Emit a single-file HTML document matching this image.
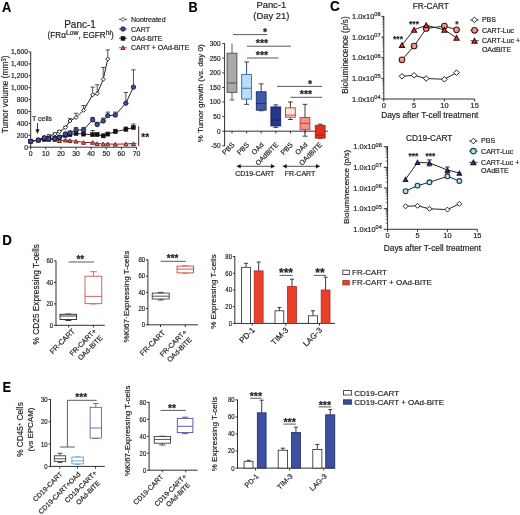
<!DOCTYPE html>
<html><head><meta charset="utf-8"><title>Figure</title>
<style>
html,body{margin:0;padding:0;background:#fff;}
svg{display:block;font-family:"Liberation Sans",sans-serif;}
text{stroke:#222;stroke-width:.18px;}
</style></head><body>
<svg width="520" height="515" viewBox="0 0 520 515">
<rect width="520" height="515" fill="#fff"/>
<text x="2.00" y="11.80" font-size="14" text-anchor="start" fill="#000" font-weight="bold" textLength="9.3" lengthAdjust="spacingAndGlyphs">A</text>
<text x="188.50" y="11.50" font-size="14" text-anchor="start" fill="#000" font-weight="bold" textLength="9.2" lengthAdjust="spacingAndGlyphs">B</text>
<text x="330.10" y="11.40" font-size="14" text-anchor="start" fill="#000" font-weight="bold" textLength="9.8" lengthAdjust="spacingAndGlyphs">C</text>
<text x="2.20" y="245.20" font-size="14" text-anchor="start" fill="#000" font-weight="bold" textLength="9.6" lengthAdjust="spacingAndGlyphs">D</text>
<text x="2.60" y="392.40" font-size="14" text-anchor="start" fill="#000" font-weight="bold" textLength="8.6" lengthAdjust="spacingAndGlyphs">E</text>
<text x="80.00" y="28.00" font-size="10" text-anchor="middle" fill="#222" >Panc-1</text>
<text x="80.7" y="38" font-size="8.2" text-anchor="middle" fill="#222">(FRα<tspan dy="-2.6" font-size="6.8">Low</tspan><tspan dy="2.6">, EGFR</tspan><tspan dy="-2.6" font-size="6.8">hi</tspan><tspan dy="2.6">)</tspan></text>
<line x1="30.70" y1="51.60" x2="30.70" y2="147.60" stroke="#262626" stroke-width="0.95" />
<line x1="30.70" y1="147.20" x2="136.47" y2="147.20" stroke="#262626" stroke-width="0.95" />
<line x1="28.50" y1="147.20" x2="30.70" y2="147.20" stroke="#262626" stroke-width="0.95" />
<text x="28.10" y="149.60" font-size="6.8" text-anchor="end" fill="#222" >0</text>
<line x1="28.50" y1="135.30" x2="30.70" y2="135.30" stroke="#262626" stroke-width="0.95" />
<text x="28.10" y="137.70" font-size="6.8" text-anchor="end" fill="#222" >200</text>
<line x1="28.50" y1="123.40" x2="30.70" y2="123.40" stroke="#262626" stroke-width="0.95" />
<text x="28.10" y="125.80" font-size="6.8" text-anchor="end" fill="#222" >400</text>
<line x1="28.50" y1="111.50" x2="30.70" y2="111.50" stroke="#262626" stroke-width="0.95" />
<text x="28.10" y="113.90" font-size="6.8" text-anchor="end" fill="#222" >600</text>
<line x1="28.50" y1="99.60" x2="30.70" y2="99.60" stroke="#262626" stroke-width="0.95" />
<text x="28.10" y="102.00" font-size="6.8" text-anchor="end" fill="#222" >800</text>
<line x1="28.50" y1="87.70" x2="30.70" y2="87.70" stroke="#262626" stroke-width="0.95" />
<text x="28.10" y="90.10" font-size="6.8" text-anchor="end" fill="#222" >1,000</text>
<line x1="28.50" y1="75.80" x2="30.70" y2="75.80" stroke="#262626" stroke-width="0.95" />
<text x="28.10" y="78.20" font-size="6.8" text-anchor="end" fill="#222" >1,200</text>
<line x1="28.50" y1="63.90" x2="30.70" y2="63.90" stroke="#262626" stroke-width="0.95" />
<text x="28.10" y="66.30" font-size="6.8" text-anchor="end" fill="#222" >1,400</text>
<line x1="28.50" y1="52.00" x2="30.70" y2="52.00" stroke="#262626" stroke-width="0.95" />
<text x="28.10" y="54.40" font-size="6.8" text-anchor="end" fill="#222" >1,600</text>
<line x1="30.70" y1="147.20" x2="30.70" y2="149.40" stroke="#262626" stroke-width="0.95" />
<text x="30.70" y="156.20" font-size="6.8" text-anchor="middle" fill="#222" >0</text>
<line x1="45.81" y1="147.20" x2="45.81" y2="149.40" stroke="#262626" stroke-width="0.95" />
<text x="45.81" y="156.20" font-size="6.8" text-anchor="middle" fill="#222" >10</text>
<line x1="60.92" y1="147.20" x2="60.92" y2="149.40" stroke="#262626" stroke-width="0.95" />
<text x="60.92" y="156.20" font-size="6.8" text-anchor="middle" fill="#222" >20</text>
<line x1="76.03" y1="147.20" x2="76.03" y2="149.40" stroke="#262626" stroke-width="0.95" />
<text x="76.03" y="156.20" font-size="6.8" text-anchor="middle" fill="#222" >30</text>
<line x1="91.14" y1="147.20" x2="91.14" y2="149.40" stroke="#262626" stroke-width="0.95" />
<text x="91.14" y="156.20" font-size="6.8" text-anchor="middle" fill="#222" >40</text>
<line x1="106.25" y1="147.20" x2="106.25" y2="149.40" stroke="#262626" stroke-width="0.95" />
<text x="106.25" y="156.20" font-size="6.8" text-anchor="middle" fill="#222" >50</text>
<line x1="121.36" y1="147.20" x2="121.36" y2="149.40" stroke="#262626" stroke-width="0.95" />
<text x="121.36" y="156.20" font-size="6.8" text-anchor="middle" fill="#222" >60</text>
<line x1="136.47" y1="147.20" x2="136.47" y2="149.40" stroke="#262626" stroke-width="0.95" />
<text x="136.47" y="156.20" font-size="6.8" text-anchor="middle" fill="#222" >70</text>
<text x="8.2" y="94.3" font-size="8.3" text-anchor="middle" fill="#222" transform="rotate(-90 8.2 94.3)">Tumor volume (mm<tspan dy="-2.5" font-size="6.3">3</tspan><tspan dy="2.5">)</tspan></text>
<line x1="44.30" y1="138.27" x2="44.30" y2="137.08" stroke="#262626" stroke-width="0.8" />
<line x1="42.10" y1="137.08" x2="46.50" y2="137.08" stroke="#262626" stroke-width="0.8" />
<line x1="48.83" y1="136.49" x2="48.83" y2="134.70" stroke="#262626" stroke-width="0.8" />
<line x1="46.63" y1="134.70" x2="51.03" y2="134.70" stroke="#262626" stroke-width="0.8" />
<line x1="54.88" y1="134.11" x2="54.88" y2="132.92" stroke="#262626" stroke-width="0.8" />
<line x1="52.68" y1="132.92" x2="57.08" y2="132.92" stroke="#262626" stroke-width="0.8" />
<line x1="59.41" y1="131.73" x2="59.41" y2="130.54" stroke="#262626" stroke-width="0.8" />
<line x1="57.21" y1="130.54" x2="61.61" y2="130.54" stroke="#262626" stroke-width="0.8" />
<line x1="65.45" y1="127.56" x2="65.45" y2="126.38" stroke="#262626" stroke-width="0.8" />
<line x1="63.25" y1="126.38" x2="67.65" y2="126.38" stroke="#262626" stroke-width="0.8" />
<line x1="69.99" y1="121.02" x2="69.99" y2="118.64" stroke="#262626" stroke-width="0.8" />
<line x1="67.79" y1="118.64" x2="72.19" y2="118.64" stroke="#262626" stroke-width="0.8" />
<line x1="76.03" y1="117.45" x2="76.03" y2="113.28" stroke="#262626" stroke-width="0.8" />
<line x1="73.83" y1="113.28" x2="78.23" y2="113.28" stroke="#262626" stroke-width="0.8" />
<line x1="83.58" y1="110.31" x2="83.58" y2="105.55" stroke="#262626" stroke-width="0.8" />
<line x1="81.38" y1="105.55" x2="85.78" y2="105.55" stroke="#262626" stroke-width="0.8" />
<line x1="92.65" y1="94.84" x2="92.65" y2="87.10" stroke="#262626" stroke-width="0.8" />
<line x1="90.45" y1="87.10" x2="94.85" y2="87.10" stroke="#262626" stroke-width="0.8" />
<line x1="97.18" y1="93.65" x2="97.18" y2="84.72" stroke="#262626" stroke-width="0.8" />
<line x1="94.98" y1="84.72" x2="99.38" y2="84.72" stroke="#262626" stroke-width="0.8" />
<line x1="103.23" y1="79.37" x2="103.23" y2="67.47" stroke="#262626" stroke-width="0.8" />
<line x1="101.03" y1="67.47" x2="105.43" y2="67.47" stroke="#262626" stroke-width="0.8" />
<line x1="107.76" y1="59.14" x2="107.76" y2="49.92" stroke="#262626" stroke-width="0.8" />
<line x1="105.56" y1="49.92" x2="109.96" y2="49.92" stroke="#262626" stroke-width="0.8" />
<polyline points="30.70,141.25 38.25,140.06 44.30,138.27 48.83,136.49 54.88,134.11 59.41,131.73 65.45,127.56 69.99,121.02 76.03,117.45 83.58,110.31 92.65,94.84 97.18,93.65 103.23,79.37 107.76,59.14" fill="none" stroke="#262626" stroke-width="1.0"/>
<polygon points="30.70,139.25 32.70,141.25 30.70,143.25 28.70,141.25" fill="#fff" stroke="#262626" stroke-width="1.0" stroke-linejoin="miter"/>
<polygon points="38.25,138.06 40.25,140.06 38.25,142.06 36.25,140.06" fill="#fff" stroke="#262626" stroke-width="1.0" stroke-linejoin="miter"/>
<polygon points="44.30,136.27 46.30,138.27 44.30,140.27 42.30,138.27" fill="#fff" stroke="#262626" stroke-width="1.0" stroke-linejoin="miter"/>
<polygon points="48.83,134.49 50.83,136.49 48.83,138.49 46.83,136.49" fill="#fff" stroke="#262626" stroke-width="1.0" stroke-linejoin="miter"/>
<polygon points="54.88,132.11 56.88,134.11 54.88,136.11 52.88,134.11" fill="#fff" stroke="#262626" stroke-width="1.0" stroke-linejoin="miter"/>
<polygon points="59.41,129.73 61.41,131.73 59.41,133.73 57.41,131.73" fill="#fff" stroke="#262626" stroke-width="1.0" stroke-linejoin="miter"/>
<polygon points="65.45,125.56 67.45,127.56 65.45,129.56 63.45,127.56" fill="#fff" stroke="#262626" stroke-width="1.0" stroke-linejoin="miter"/>
<polygon points="69.99,119.02 71.99,121.02 69.99,123.02 67.99,121.02" fill="#fff" stroke="#262626" stroke-width="1.0" stroke-linejoin="miter"/>
<polygon points="76.03,115.45 78.03,117.45 76.03,119.45 74.03,117.45" fill="#fff" stroke="#262626" stroke-width="1.0" stroke-linejoin="miter"/>
<polygon points="83.58,108.31 85.58,110.31 83.58,112.31 81.58,110.31" fill="#fff" stroke="#262626" stroke-width="1.0" stroke-linejoin="miter"/>
<polygon points="92.65,92.84 94.65,94.84 92.65,96.84 90.65,94.84" fill="#fff" stroke="#262626" stroke-width="1.0" stroke-linejoin="miter"/>
<polygon points="97.18,91.65 99.18,93.65 97.18,95.65 95.18,93.65" fill="#fff" stroke="#262626" stroke-width="1.0" stroke-linejoin="miter"/>
<polygon points="103.23,77.37 105.23,79.37 103.23,81.37 101.23,79.37" fill="#fff" stroke="#262626" stroke-width="1.0" stroke-linejoin="miter"/>
<polygon points="107.76,57.14 109.76,59.14 107.76,61.14 105.76,59.14" fill="#fff" stroke="#262626" stroke-width="1.0" stroke-linejoin="miter"/>
<polyline points="30.70,141.25 38.25,140.06 44.30,139.46 48.83,139.46 54.88,139.46 59.41,140.66 65.45,140.06 69.99,140.66 76.03,141.25 83.58,142.44 92.65,142.44 97.18,143.63 103.23,143.93 107.76,143.93 115.32,144.22 125.89,143.93 133.45,143.63 136.47,143.63" fill="none" stroke="#7a1f1c" stroke-width="1.0"/>
<polygon points="30.70,139.45 32.70,143.12 28.70,143.12" fill="#cf7a72" stroke="#7a1f1c" stroke-width="1.0" stroke-linejoin="miter"/>
<polygon points="38.25,138.26 40.25,141.94 36.26,141.94" fill="#cf7a72" stroke="#7a1f1c" stroke-width="1.0" stroke-linejoin="miter"/>
<polygon points="44.30,137.66 46.29,141.34 42.30,141.34" fill="#cf7a72" stroke="#7a1f1c" stroke-width="1.0" stroke-linejoin="miter"/>
<polygon points="48.83,137.66 50.83,141.34 46.84,141.34" fill="#cf7a72" stroke="#7a1f1c" stroke-width="1.0" stroke-linejoin="miter"/>
<polygon points="54.88,137.66 56.87,141.34 52.88,141.34" fill="#cf7a72" stroke="#7a1f1c" stroke-width="1.0" stroke-linejoin="miter"/>
<polygon points="59.41,138.86 61.40,142.53 57.41,142.53" fill="#cf7a72" stroke="#7a1f1c" stroke-width="1.0" stroke-linejoin="miter"/>
<polygon points="65.45,138.26 67.45,141.94 63.46,141.94" fill="#cf7a72" stroke="#7a1f1c" stroke-width="1.0" stroke-linejoin="miter"/>
<polygon points="69.99,138.86 71.98,142.53 67.99,142.53" fill="#cf7a72" stroke="#7a1f1c" stroke-width="1.0" stroke-linejoin="miter"/>
<polygon points="76.03,139.45 78.03,143.12 74.03,143.12" fill="#cf7a72" stroke="#7a1f1c" stroke-width="1.0" stroke-linejoin="miter"/>
<polygon points="83.58,140.64 85.58,144.31 81.59,144.31" fill="#cf7a72" stroke="#7a1f1c" stroke-width="1.0" stroke-linejoin="miter"/>
<polygon points="92.65,140.64 94.65,144.31 90.66,144.31" fill="#cf7a72" stroke="#7a1f1c" stroke-width="1.0" stroke-linejoin="miter"/>
<polygon points="97.18,141.83 99.18,145.50 95.19,145.50" fill="#cf7a72" stroke="#7a1f1c" stroke-width="1.0" stroke-linejoin="miter"/>
<polygon points="103.23,142.13 105.22,145.80 101.23,145.80" fill="#cf7a72" stroke="#7a1f1c" stroke-width="1.0" stroke-linejoin="miter"/>
<polygon points="107.76,142.13 109.76,145.80 105.77,145.80" fill="#cf7a72" stroke="#7a1f1c" stroke-width="1.0" stroke-linejoin="miter"/>
<polygon points="115.32,142.43 117.31,146.10 113.32,146.10" fill="#cf7a72" stroke="#7a1f1c" stroke-width="1.0" stroke-linejoin="miter"/>
<polygon points="125.89,142.13 127.89,145.80 123.90,145.80" fill="#cf7a72" stroke="#7a1f1c" stroke-width="1.0" stroke-linejoin="miter"/>
<polygon points="133.45,141.83 135.44,145.50 131.45,145.50" fill="#cf7a72" stroke="#7a1f1c" stroke-width="1.0" stroke-linejoin="miter"/>
<line x1="44.30" y1="138.87" x2="44.30" y2="137.68" stroke="#262626" stroke-width="0.8" />
<line x1="42.30" y1="137.68" x2="46.30" y2="137.68" stroke="#262626" stroke-width="0.8" />
<line x1="48.83" y1="138.27" x2="48.83" y2="137.08" stroke="#262626" stroke-width="0.8" />
<line x1="46.83" y1="137.08" x2="50.83" y2="137.08" stroke="#262626" stroke-width="0.8" />
<line x1="54.88" y1="138.27" x2="54.88" y2="137.08" stroke="#262626" stroke-width="0.8" />
<line x1="52.88" y1="137.08" x2="56.88" y2="137.08" stroke="#262626" stroke-width="0.8" />
<line x1="59.41" y1="137.68" x2="59.41" y2="136.49" stroke="#262626" stroke-width="0.8" />
<line x1="57.41" y1="136.49" x2="61.41" y2="136.49" stroke="#262626" stroke-width="0.8" />
<line x1="65.45" y1="135.30" x2="65.45" y2="133.51" stroke="#262626" stroke-width="0.8" />
<line x1="63.45" y1="133.51" x2="67.45" y2="133.51" stroke="#262626" stroke-width="0.8" />
<line x1="69.99" y1="134.70" x2="69.99" y2="132.92" stroke="#262626" stroke-width="0.8" />
<line x1="67.99" y1="132.92" x2="71.99" y2="132.92" stroke="#262626" stroke-width="0.8" />
<line x1="76.03" y1="133.51" x2="76.03" y2="131.73" stroke="#262626" stroke-width="0.8" />
<line x1="74.03" y1="131.73" x2="78.03" y2="131.73" stroke="#262626" stroke-width="0.8" />
<line x1="83.58" y1="134.11" x2="83.58" y2="131.73" stroke="#262626" stroke-width="0.8" />
<line x1="81.58" y1="131.73" x2="85.58" y2="131.73" stroke="#262626" stroke-width="0.8" />
<line x1="92.65" y1="134.70" x2="92.65" y2="130.54" stroke="#262626" stroke-width="0.8" />
<line x1="90.65" y1="130.54" x2="94.65" y2="130.54" stroke="#262626" stroke-width="0.8" />
<line x1="97.18" y1="134.70" x2="97.18" y2="132.92" stroke="#262626" stroke-width="0.8" />
<line x1="95.18" y1="132.92" x2="99.18" y2="132.92" stroke="#262626" stroke-width="0.8" />
<line x1="103.23" y1="135.89" x2="103.23" y2="134.11" stroke="#262626" stroke-width="0.8" />
<line x1="101.23" y1="134.11" x2="105.23" y2="134.11" stroke="#262626" stroke-width="0.8" />
<line x1="107.76" y1="134.11" x2="107.76" y2="132.32" stroke="#262626" stroke-width="0.8" />
<line x1="105.76" y1="132.32" x2="109.76" y2="132.32" stroke="#262626" stroke-width="0.8" />
<line x1="115.32" y1="131.73" x2="115.32" y2="129.35" stroke="#262626" stroke-width="0.8" />
<line x1="113.32" y1="129.35" x2="117.32" y2="129.35" stroke="#262626" stroke-width="0.8" />
<line x1="125.89" y1="129.35" x2="125.89" y2="126.97" stroke="#262626" stroke-width="0.8" />
<line x1="123.89" y1="126.97" x2="127.89" y2="126.97" stroke="#262626" stroke-width="0.8" />
<line x1="133.45" y1="127.56" x2="133.45" y2="124.00" stroke="#262626" stroke-width="0.8" />
<line x1="131.45" y1="124.00" x2="135.45" y2="124.00" stroke="#262626" stroke-width="0.8" />
<polyline points="30.70,141.25 38.25,140.06 44.30,138.87 48.83,138.27 54.88,138.27 59.41,137.68 65.45,135.30 69.99,134.70 76.03,133.51 83.58,134.11 92.65,134.70 97.18,134.70 103.23,135.89 107.76,134.11 115.32,131.73 125.89,129.35 133.45,127.56" fill="none" stroke="#262626" stroke-width="1.0"/>
<rect x="28.70" y="139.25" width="4.00" height="4.00" fill="#111" stroke="#111" stroke-width="0.5"/>
<rect x="36.25" y="138.06" width="4.00" height="4.00" fill="#111" stroke="#111" stroke-width="0.5"/>
<rect x="42.30" y="136.87" width="4.00" height="4.00" fill="#111" stroke="#111" stroke-width="0.5"/>
<rect x="46.83" y="136.27" width="4.00" height="4.00" fill="#111" stroke="#111" stroke-width="0.5"/>
<rect x="52.88" y="136.27" width="4.00" height="4.00" fill="#111" stroke="#111" stroke-width="0.5"/>
<rect x="57.41" y="135.68" width="4.00" height="4.00" fill="#111" stroke="#111" stroke-width="0.5"/>
<rect x="63.45" y="133.30" width="4.00" height="4.00" fill="#111" stroke="#111" stroke-width="0.5"/>
<rect x="67.99" y="132.70" width="4.00" height="4.00" fill="#111" stroke="#111" stroke-width="0.5"/>
<rect x="74.03" y="131.51" width="4.00" height="4.00" fill="#111" stroke="#111" stroke-width="0.5"/>
<rect x="81.58" y="132.11" width="4.00" height="4.00" fill="#111" stroke="#111" stroke-width="0.5"/>
<rect x="90.65" y="132.70" width="4.00" height="4.00" fill="#111" stroke="#111" stroke-width="0.5"/>
<rect x="95.18" y="132.70" width="4.00" height="4.00" fill="#111" stroke="#111" stroke-width="0.5"/>
<rect x="101.23" y="133.89" width="4.00" height="4.00" fill="#111" stroke="#111" stroke-width="0.5"/>
<rect x="105.76" y="132.11" width="4.00" height="4.00" fill="#111" stroke="#111" stroke-width="0.5"/>
<rect x="113.32" y="129.73" width="4.00" height="4.00" fill="#111" stroke="#111" stroke-width="0.5"/>
<rect x="123.89" y="127.35" width="4.00" height="4.00" fill="#111" stroke="#111" stroke-width="0.5"/>
<rect x="131.45" y="125.56" width="4.00" height="4.00" fill="#111" stroke="#111" stroke-width="0.5"/>
<line x1="44.30" y1="137.68" x2="44.30" y2="136.49" stroke="#262626" stroke-width="0.8" />
<line x1="42.10" y1="136.49" x2="46.50" y2="136.49" stroke="#262626" stroke-width="0.8" />
<line x1="48.83" y1="138.87" x2="48.83" y2="137.68" stroke="#262626" stroke-width="0.8" />
<line x1="46.63" y1="137.68" x2="51.03" y2="137.68" stroke="#262626" stroke-width="0.8" />
<line x1="54.88" y1="138.87" x2="54.88" y2="137.68" stroke="#262626" stroke-width="0.8" />
<line x1="52.68" y1="137.68" x2="57.08" y2="137.68" stroke="#262626" stroke-width="0.8" />
<line x1="59.41" y1="137.08" x2="59.41" y2="135.89" stroke="#262626" stroke-width="0.8" />
<line x1="57.21" y1="135.89" x2="61.61" y2="135.89" stroke="#262626" stroke-width="0.8" />
<line x1="65.45" y1="134.11" x2="65.45" y2="132.32" stroke="#262626" stroke-width="0.8" />
<line x1="63.25" y1="132.32" x2="67.65" y2="132.32" stroke="#262626" stroke-width="0.8" />
<line x1="69.99" y1="132.92" x2="69.99" y2="131.13" stroke="#262626" stroke-width="0.8" />
<line x1="67.79" y1="131.13" x2="72.19" y2="131.13" stroke="#262626" stroke-width="0.8" />
<line x1="76.03" y1="129.94" x2="76.03" y2="127.56" stroke="#262626" stroke-width="0.8" />
<line x1="73.83" y1="127.56" x2="78.23" y2="127.56" stroke="#262626" stroke-width="0.8" />
<line x1="83.58" y1="129.94" x2="83.58" y2="127.56" stroke="#262626" stroke-width="0.8" />
<line x1="81.38" y1="127.56" x2="85.78" y2="127.56" stroke="#262626" stroke-width="0.8" />
<line x1="92.65" y1="119.83" x2="92.65" y2="117.45" stroke="#262626" stroke-width="0.8" />
<line x1="90.45" y1="117.45" x2="94.85" y2="117.45" stroke="#262626" stroke-width="0.8" />
<line x1="97.18" y1="124.59" x2="97.18" y2="122.21" stroke="#262626" stroke-width="0.8" />
<line x1="94.98" y1="122.21" x2="99.38" y2="122.21" stroke="#262626" stroke-width="0.8" />
<line x1="103.23" y1="121.02" x2="103.23" y2="118.04" stroke="#262626" stroke-width="0.8" />
<line x1="101.03" y1="118.04" x2="105.43" y2="118.04" stroke="#262626" stroke-width="0.8" />
<line x1="107.76" y1="115.66" x2="107.76" y2="112.09" stroke="#262626" stroke-width="0.8" />
<line x1="105.56" y1="112.09" x2="109.96" y2="112.09" stroke="#262626" stroke-width="0.8" />
<line x1="115.32" y1="115.07" x2="115.32" y2="112.09" stroke="#262626" stroke-width="0.8" />
<line x1="113.12" y1="112.09" x2="117.52" y2="112.09" stroke="#262626" stroke-width="0.8" />
<line x1="125.89" y1="103.17" x2="125.89" y2="92.46" stroke="#262626" stroke-width="0.8" />
<line x1="123.69" y1="92.46" x2="128.09" y2="92.46" stroke="#262626" stroke-width="0.8" />
<line x1="133.45" y1="87.10" x2="133.45" y2="69.85" stroke="#262626" stroke-width="0.8" />
<line x1="131.25" y1="69.85" x2="135.65" y2="69.85" stroke="#262626" stroke-width="0.8" />
<polyline points="30.70,141.25 38.25,140.06 44.30,137.68 48.83,138.87 54.88,138.87 59.41,137.08 65.45,134.11 69.99,132.92 76.03,129.94 83.58,129.94 92.65,119.83 97.18,124.59 103.23,121.02 107.76,115.66 115.32,115.07 125.89,103.17 133.45,87.10" fill="none" stroke="#262626" stroke-width="1.0"/>
<circle cx="30.70" cy="141.25" r="2.2" fill="#3f4d9c" stroke="#151a40" stroke-width="0.9"/>
<circle cx="38.25" cy="140.06" r="2.2" fill="#3f4d9c" stroke="#151a40" stroke-width="0.9"/>
<circle cx="44.30" cy="137.68" r="2.2" fill="#3f4d9c" stroke="#151a40" stroke-width="0.9"/>
<circle cx="48.83" cy="138.87" r="2.2" fill="#3f4d9c" stroke="#151a40" stroke-width="0.9"/>
<circle cx="54.88" cy="138.87" r="2.2" fill="#3f4d9c" stroke="#151a40" stroke-width="0.9"/>
<circle cx="59.41" cy="137.08" r="2.2" fill="#3f4d9c" stroke="#151a40" stroke-width="0.9"/>
<circle cx="65.45" cy="134.11" r="2.2" fill="#3f4d9c" stroke="#151a40" stroke-width="0.9"/>
<circle cx="69.99" cy="132.92" r="2.2" fill="#3f4d9c" stroke="#151a40" stroke-width="0.9"/>
<circle cx="76.03" cy="129.94" r="2.2" fill="#3f4d9c" stroke="#151a40" stroke-width="0.9"/>
<circle cx="83.58" cy="129.94" r="2.2" fill="#3f4d9c" stroke="#151a40" stroke-width="0.9"/>
<circle cx="92.65" cy="119.83" r="2.2" fill="#3f4d9c" stroke="#151a40" stroke-width="0.9"/>
<circle cx="97.18" cy="124.59" r="2.2" fill="#3f4d9c" stroke="#151a40" stroke-width="0.9"/>
<circle cx="103.23" cy="121.02" r="2.2" fill="#3f4d9c" stroke="#151a40" stroke-width="0.9"/>
<circle cx="107.76" cy="115.66" r="2.2" fill="#3f4d9c" stroke="#151a40" stroke-width="0.9"/>
<circle cx="115.32" cy="115.07" r="2.2" fill="#3f4d9c" stroke="#151a40" stroke-width="0.9"/>
<circle cx="125.89" cy="103.17" r="2.2" fill="#3f4d9c" stroke="#151a40" stroke-width="0.9"/>
<circle cx="133.45" cy="87.10" r="2.2" fill="#3f4d9c" stroke="#151a40" stroke-width="0.9"/>
<text x="32.00" y="120.70" font-size="7" text-anchor="start" fill="#222" >T cells</text>
<line x1="37.50" y1="123.00" x2="37.50" y2="131.00" stroke="#262626" stroke-width="0.9" />
<polygon points="35.70,129.50 39.30,129.50 37.50,133.50" fill="#111" stroke="#111" stroke-width="0.3" stroke-linejoin="miter"/>
<line x1="138.70" y1="126.30" x2="138.70" y2="146.00" stroke="#4a2320" stroke-width="1.0" />
<text x="141.30" y="141.17" font-size="10.0" text-anchor="start" fill="#222" font-weight="bold" >**</text>
<line x1="119.00" y1="19.40" x2="127.00" y2="19.40" stroke="#262626" stroke-width="0.8" />
<line x1="119.00" y1="29.00" x2="127.00" y2="29.00" stroke="#262626" stroke-width="0.8" />
<line x1="119.00" y1="38.40" x2="127.00" y2="38.40" stroke="#262626" stroke-width="0.8" />
<line x1="119.00" y1="47.80" x2="127.00" y2="47.80" stroke="#7a1f1c" stroke-width="0.8" />
<polygon points="123.00,17.40 125.00,19.40 123.00,21.40 121.00,19.40" fill="#fff" stroke="#262626" stroke-width="0.8" stroke-linejoin="miter"/>
<circle cx="123.00" cy="29.00" r="2.2" fill="#3f4d9c" stroke="#151a40" stroke-width="0.9"/>
<rect x="121.00" y="36.40" width="4.00" height="4.00" fill="#111" stroke="#111" stroke-width="0.5"/>
<polygon points="123.00,45.70 125.00,49.38 121.00,49.38" fill="#cf7a72" stroke="#7a1f1c" stroke-width="1.0" stroke-linejoin="miter"/>
<text x="131.00" y="21.80" font-size="7" text-anchor="start" fill="#222" >Nontreated</text>
<text x="131.00" y="31.50" font-size="7" text-anchor="start" fill="#222" >CART</text>
<text x="131.00" y="40.80" font-size="7" text-anchor="start" fill="#222" >OAd-BiTE</text>
<text x="131.00" y="50.00" font-size="7" text-anchor="start" fill="#222" >CART + OAd-BiTE</text>
<text x="271.30" y="7.60" font-size="9.4" text-anchor="middle" fill="#222" >Panc-1</text>
<text x="271.30" y="18.70" font-size="9.4" text-anchor="middle" fill="#222" >(Day 21)</text>
<line x1="224.60" y1="43.20" x2="224.60" y2="146.20" stroke="#262626" stroke-width="0.95" />
<line x1="224.60" y1="131.20" x2="327.80" y2="131.20" stroke="#262626" stroke-width="0.95" />
<line x1="222.40" y1="145.80" x2="224.60" y2="145.80" stroke="#262626" stroke-width="0.95" />
<text x="220.60" y="148.10" font-size="6.5" text-anchor="end" fill="#222" >-50</text>
<line x1="222.40" y1="131.20" x2="224.60" y2="131.20" stroke="#262626" stroke-width="0.95" />
<text x="220.60" y="133.50" font-size="6.5" text-anchor="end" fill="#222" >0</text>
<line x1="222.40" y1="116.60" x2="224.60" y2="116.60" stroke="#262626" stroke-width="0.95" />
<text x="220.60" y="118.90" font-size="6.5" text-anchor="end" fill="#222" >50</text>
<line x1="222.40" y1="102.00" x2="224.60" y2="102.00" stroke="#262626" stroke-width="0.95" />
<text x="220.60" y="104.30" font-size="6.5" text-anchor="end" fill="#222" >100</text>
<line x1="222.40" y1="87.40" x2="224.60" y2="87.40" stroke="#262626" stroke-width="0.95" />
<text x="220.60" y="89.70" font-size="6.5" text-anchor="end" fill="#222" >150</text>
<line x1="222.40" y1="72.80" x2="224.60" y2="72.80" stroke="#262626" stroke-width="0.95" />
<text x="220.60" y="75.10" font-size="6.5" text-anchor="end" fill="#222" >200</text>
<line x1="222.40" y1="58.20" x2="224.60" y2="58.20" stroke="#262626" stroke-width="0.95" />
<text x="220.60" y="60.50" font-size="6.5" text-anchor="end" fill="#222" >250</text>
<line x1="222.40" y1="43.60" x2="224.60" y2="43.60" stroke="#262626" stroke-width="0.95" />
<text x="220.60" y="45.90" font-size="6.5" text-anchor="end" fill="#222" >300</text>
<text x="202.6" y="93.3" font-size="8" text-anchor="middle" fill="#222" transform="rotate(-90 202.6 93.3)">% Tumor growth (vs. day 0)</text>
<line x1="232.00" y1="131.20" x2="232.00" y2="133.40" stroke="#262626" stroke-width="0.95" />
<line x1="232.00" y1="53.24" x2="232.00" y2="43.60" stroke="#4a4a4a" stroke-width="0.9" />
<line x1="232.00" y1="92.36" x2="232.00" y2="99.96" stroke="#4a4a4a" stroke-width="0.9" />
<line x1="229.60" y1="99.96" x2="234.40" y2="99.96" stroke="#4a4a4a" stroke-width="0.9" />
<rect x="227.10" y="53.24" width="9.80" height="39.13" fill="#a9a9a9" stroke="#4a4a4a" stroke-width="0.9"/>
<line x1="227.10" y1="83.02" x2="236.90" y2="83.02" stroke="#4a4a4a" stroke-width="0.9" />
<line x1="246.60" y1="131.20" x2="246.60" y2="133.40" stroke="#262626" stroke-width="0.95" />
<line x1="246.60" y1="74.55" x2="246.60" y2="62.00" stroke="#1c2f5e" stroke-width="0.9" />
<line x1="244.20" y1="62.00" x2="249.00" y2="62.00" stroke="#1c2f5e" stroke-width="0.9" />
<line x1="246.60" y1="99.08" x2="246.60" y2="104.34" stroke="#1c2f5e" stroke-width="0.9" />
<line x1="244.20" y1="104.34" x2="249.00" y2="104.34" stroke="#1c2f5e" stroke-width="0.9" />
<rect x="241.70" y="74.55" width="9.80" height="24.53" fill="#b9ddf5" stroke="#2a6db5" stroke-width="0.9"/>
<line x1="241.70" y1="88.28" x2="251.50" y2="88.28" stroke="#2a6db5" stroke-width="0.9" />
<line x1="261.20" y1="131.20" x2="261.20" y2="133.40" stroke="#262626" stroke-width="0.95" />
<line x1="261.20" y1="91.78" x2="261.20" y2="83.90" stroke="#1d2f6a" stroke-width="0.9" />
<line x1="258.80" y1="83.90" x2="263.60" y2="83.90" stroke="#1d2f6a" stroke-width="0.9" />
<line x1="261.20" y1="110.18" x2="261.20" y2="110.76" stroke="#1d2f6a" stroke-width="0.9" />
<line x1="258.80" y1="110.76" x2="263.60" y2="110.76" stroke="#1d2f6a" stroke-width="0.9" />
<rect x="256.30" y="91.78" width="9.80" height="18.40" fill="#3f5aa6" stroke="#1d2f6a" stroke-width="0.9"/>
<line x1="256.30" y1="103.46" x2="266.10" y2="103.46" stroke="#1d2f6a" stroke-width="0.9" />
<line x1="275.80" y1="131.20" x2="275.80" y2="133.40" stroke="#262626" stroke-width="0.95" />
<line x1="275.80" y1="106.96" x2="275.80" y2="104.92" stroke="#15205a" stroke-width="0.9" />
<line x1="273.40" y1="104.92" x2="278.20" y2="104.92" stroke="#15205a" stroke-width="0.9" />
<line x1="275.80" y1="125.94" x2="275.80" y2="127.40" stroke="#15205a" stroke-width="0.9" />
<line x1="273.40" y1="127.40" x2="278.20" y2="127.40" stroke="#15205a" stroke-width="0.9" />
<rect x="270.90" y="106.96" width="9.80" height="18.98" fill="#24398a" stroke="#15205a" stroke-width="0.9"/>
<line x1="270.90" y1="120.10" x2="280.70" y2="120.10" stroke="#15205a" stroke-width="0.9" />
<line x1="290.40" y1="131.20" x2="290.40" y2="133.40" stroke="#262626" stroke-width="0.95" />
<line x1="290.40" y1="107.84" x2="290.40" y2="102.00" stroke="#3a1f1f" stroke-width="0.9" />
<line x1="288.00" y1="102.00" x2="292.80" y2="102.00" stroke="#3a1f1f" stroke-width="0.9" />
<line x1="290.40" y1="117.18" x2="290.40" y2="119.52" stroke="#3a1f1f" stroke-width="0.9" />
<line x1="288.00" y1="119.52" x2="292.80" y2="119.52" stroke="#3a1f1f" stroke-width="0.9" />
<rect x="285.50" y="107.84" width="9.80" height="9.34" fill="#fde3dc" stroke="#c0392b" stroke-width="0.9"/>
<line x1="285.50" y1="115.14" x2="295.30" y2="115.14" stroke="#c0392b" stroke-width="0.9" />
<line x1="305.00" y1="131.20" x2="305.00" y2="133.40" stroke="#262626" stroke-width="0.95" />
<line x1="305.00" y1="117.48" x2="305.00" y2="104.34" stroke="#3a1f1f" stroke-width="0.9" />
<line x1="302.60" y1="104.34" x2="307.40" y2="104.34" stroke="#3a1f1f" stroke-width="0.9" />
<line x1="305.00" y1="129.74" x2="305.00" y2="136.16" stroke="#3a1f1f" stroke-width="0.9" />
<line x1="302.60" y1="136.16" x2="307.40" y2="136.16" stroke="#3a1f1f" stroke-width="0.9" />
<rect x="300.10" y="117.48" width="9.80" height="12.26" fill="#f4908a" stroke="#c0392b" stroke-width="0.9"/>
<line x1="300.10" y1="123.32" x2="309.90" y2="123.32" stroke="#c0392b" stroke-width="0.9" />
<line x1="319.60" y1="131.20" x2="319.60" y2="133.40" stroke="#262626" stroke-width="0.95" />
<line x1="320.20" y1="125.36" x2="320.20" y2="124.19" stroke="#3a1f1f" stroke-width="0.9" />
<line x1="317.80" y1="124.19" x2="322.60" y2="124.19" stroke="#3a1f1f" stroke-width="0.9" />
<line x1="320.20" y1="138.06" x2="320.20" y2="138.21" stroke="#3a1f1f" stroke-width="0.9" />
<line x1="317.80" y1="138.21" x2="322.60" y2="138.21" stroke="#3a1f1f" stroke-width="0.9" />
<rect x="315.30" y="125.36" width="9.80" height="12.70" fill="#e03020" stroke="#b02010" stroke-width="0.9"/>
<line x1="315.30" y1="135.00" x2="325.10" y2="135.00" stroke="#b02010" stroke-width="0.9" />
<text x="235.00" y="145.30" font-size="7.0" text-anchor="end" fill="#222" transform="rotate(-45 235.00 145.30)" >PBS</text>
<text x="249.60" y="145.30" font-size="7.0" text-anchor="end" fill="#222" transform="rotate(-45 249.60 145.30)" >PBS</text>
<text x="264.20" y="145.30" font-size="7.0" text-anchor="end" fill="#222" transform="rotate(-45 264.20 145.30)" >OAd</text>
<text x="278.80" y="145.30" font-size="7.0" text-anchor="end" fill="#222" transform="rotate(-45 278.80 145.30)" >OAdBiTE</text>
<text x="293.40" y="145.30" font-size="7.0" text-anchor="end" fill="#222" transform="rotate(-45 293.40 145.30)" >PBS</text>
<text x="308.00" y="145.30" font-size="7.0" text-anchor="end" fill="#222" transform="rotate(-45 308.00 145.30)" >OAd</text>
<text x="322.60" y="145.30" font-size="7.0" text-anchor="end" fill="#222" transform="rotate(-45 322.60 145.30)" >OAdBiTE</text>
<line x1="233.00" y1="34.60" x2="267.00" y2="34.60" stroke="#454852" stroke-width="0.9" />
<text x="265.00" y="35.71" font-size="10.6" text-anchor="middle" fill="#222" font-weight="bold" >*</text>
<line x1="247.00" y1="46.20" x2="291.00" y2="46.20" stroke="#454852" stroke-width="0.9" />
<text x="262.00" y="47.31" font-size="10.6" text-anchor="middle" fill="#222" font-weight="bold" >***</text>
<line x1="247.00" y1="58.00" x2="278.50" y2="58.00" stroke="#454852" stroke-width="0.9" />
<text x="262.00" y="59.11" font-size="10.6" text-anchor="middle" fill="#222" font-weight="bold" >***</text>
<line x1="277.00" y1="86.40" x2="322.00" y2="86.40" stroke="#454852" stroke-width="0.9" />
<text x="310.00" y="87.51" font-size="10.6" text-anchor="middle" fill="#222" font-weight="bold" >*</text>
<line x1="290.40" y1="97.30" x2="322.00" y2="97.30" stroke="#454852" stroke-width="0.9" />
<text x="306.00" y="98.41" font-size="10.6" text-anchor="middle" fill="#222" font-weight="bold" >***</text>
<line x1="238.60" y1="166.30" x2="273.00" y2="166.30" stroke="#262626" stroke-width="0.8" />
<polygon points="236.60,166.30 240.60,164.30 240.60,168.30" fill="#111" stroke="#111" stroke-width="0.2" stroke-linejoin="miter"/>
<polygon points="275.00,166.30 271.00,164.30 271.00,168.30" fill="#111" stroke="#111" stroke-width="0.2" stroke-linejoin="miter"/>
<line x1="284.60" y1="166.30" x2="318.00" y2="166.30" stroke="#262626" stroke-width="0.8" />
<polygon points="282.60,166.30 286.60,164.30 286.60,168.30" fill="#111" stroke="#111" stroke-width="0.2" stroke-linejoin="miter"/>
<polygon points="320.00,166.30 316.00,164.30 316.00,168.30" fill="#111" stroke="#111" stroke-width="0.2" stroke-linejoin="miter"/>
<text x="254.80" y="176.10" font-size="7" text-anchor="middle" fill="#222" >CD19-CART</text>
<text x="300.00" y="176.10" font-size="7" text-anchor="middle" fill="#222" >FR-CART</text>
<line x1="383.80" y1="16.00" x2="383.80" y2="99.40" stroke="#262626" stroke-width="0.95" />
<line x1="383.80" y1="99.00" x2="474.70" y2="99.00" stroke="#262626" stroke-width="0.95" />
<line x1="382.55" y1="92.78" x2="383.80" y2="92.78" stroke="#262626" stroke-width="0.7" />
<line x1="382.55" y1="89.15" x2="383.80" y2="89.15" stroke="#262626" stroke-width="0.7" />
<line x1="382.55" y1="86.57" x2="383.80" y2="86.57" stroke="#262626" stroke-width="0.7" />
<line x1="382.55" y1="84.57" x2="383.80" y2="84.57" stroke="#262626" stroke-width="0.7" />
<line x1="382.55" y1="82.93" x2="383.80" y2="82.93" stroke="#262626" stroke-width="0.7" />
<line x1="382.55" y1="81.55" x2="383.80" y2="81.55" stroke="#262626" stroke-width="0.7" />
<line x1="382.55" y1="80.35" x2="383.80" y2="80.35" stroke="#262626" stroke-width="0.7" />
<line x1="382.55" y1="79.29" x2="383.80" y2="79.29" stroke="#262626" stroke-width="0.7" />
<line x1="382.55" y1="72.13" x2="383.80" y2="72.13" stroke="#262626" stroke-width="0.7" />
<line x1="382.55" y1="68.50" x2="383.80" y2="68.50" stroke="#262626" stroke-width="0.7" />
<line x1="382.55" y1="65.92" x2="383.80" y2="65.92" stroke="#262626" stroke-width="0.7" />
<line x1="382.55" y1="63.92" x2="383.80" y2="63.92" stroke="#262626" stroke-width="0.7" />
<line x1="382.55" y1="62.28" x2="383.80" y2="62.28" stroke="#262626" stroke-width="0.7" />
<line x1="382.55" y1="60.90" x2="383.80" y2="60.90" stroke="#262626" stroke-width="0.7" />
<line x1="382.55" y1="59.70" x2="383.80" y2="59.70" stroke="#262626" stroke-width="0.7" />
<line x1="382.55" y1="58.64" x2="383.80" y2="58.64" stroke="#262626" stroke-width="0.7" />
<line x1="382.55" y1="51.48" x2="383.80" y2="51.48" stroke="#262626" stroke-width="0.7" />
<line x1="382.55" y1="47.85" x2="383.80" y2="47.85" stroke="#262626" stroke-width="0.7" />
<line x1="382.55" y1="45.27" x2="383.80" y2="45.27" stroke="#262626" stroke-width="0.7" />
<line x1="382.55" y1="43.27" x2="383.80" y2="43.27" stroke="#262626" stroke-width="0.7" />
<line x1="382.55" y1="41.63" x2="383.80" y2="41.63" stroke="#262626" stroke-width="0.7" />
<line x1="382.55" y1="40.25" x2="383.80" y2="40.25" stroke="#262626" stroke-width="0.7" />
<line x1="382.55" y1="39.05" x2="383.80" y2="39.05" stroke="#262626" stroke-width="0.7" />
<line x1="382.55" y1="37.99" x2="383.80" y2="37.99" stroke="#262626" stroke-width="0.7" />
<line x1="382.55" y1="30.83" x2="383.80" y2="30.83" stroke="#262626" stroke-width="0.7" />
<line x1="382.55" y1="27.20" x2="383.80" y2="27.20" stroke="#262626" stroke-width="0.7" />
<line x1="382.55" y1="24.62" x2="383.80" y2="24.62" stroke="#262626" stroke-width="0.7" />
<line x1="382.55" y1="22.62" x2="383.80" y2="22.62" stroke="#262626" stroke-width="0.7" />
<line x1="382.55" y1="20.98" x2="383.80" y2="20.98" stroke="#262626" stroke-width="0.7" />
<line x1="382.55" y1="19.60" x2="383.80" y2="19.60" stroke="#262626" stroke-width="0.7" />
<line x1="382.55" y1="18.40" x2="383.80" y2="18.40" stroke="#262626" stroke-width="0.7" />
<line x1="382.55" y1="17.34" x2="383.80" y2="17.34" stroke="#262626" stroke-width="0.7" />
<line x1="381.30" y1="99.00" x2="383.80" y2="99.00" stroke="#262626" stroke-width="0.95" />
<text x="380.50" y="101.70" font-size="7.4" text-anchor="end" fill="#222">1.0x10<tspan dy="-2.8" font-size="5.6">04</tspan></text>
<line x1="381.30" y1="78.35" x2="383.80" y2="78.35" stroke="#262626" stroke-width="0.95" />
<text x="380.50" y="81.05" font-size="7.4" text-anchor="end" fill="#222">1.0x10<tspan dy="-2.8" font-size="5.6">05</tspan></text>
<line x1="381.30" y1="57.70" x2="383.80" y2="57.70" stroke="#262626" stroke-width="0.95" />
<text x="380.50" y="60.40" font-size="7.4" text-anchor="end" fill="#222">1.0x10<tspan dy="-2.8" font-size="5.6">06</tspan></text>
<line x1="381.30" y1="37.05" x2="383.80" y2="37.05" stroke="#262626" stroke-width="0.95" />
<text x="380.50" y="39.75" font-size="7.4" text-anchor="end" fill="#222">1.0x10<tspan dy="-2.8" font-size="5.6">07</tspan></text>
<line x1="381.30" y1="16.40" x2="383.80" y2="16.40" stroke="#262626" stroke-width="0.95" />
<text x="380.50" y="19.10" font-size="7.4" text-anchor="end" fill="#222">1.0x10<tspan dy="-2.8" font-size="5.6">08</tspan></text>
<line x1="383.80" y1="99.00" x2="383.80" y2="101.50" stroke="#262626" stroke-width="0.95" />
<text x="383.80" y="107.80" font-size="7.4" text-anchor="middle" fill="#222" >0</text>
<line x1="414.10" y1="99.00" x2="414.10" y2="101.50" stroke="#262626" stroke-width="0.95" />
<text x="414.10" y="107.80" font-size="7.4" text-anchor="middle" fill="#222" >5</text>
<line x1="444.40" y1="99.00" x2="444.40" y2="101.50" stroke="#262626" stroke-width="0.95" />
<text x="444.40" y="107.80" font-size="7.4" text-anchor="middle" fill="#222" >10</text>
<line x1="474.70" y1="99.00" x2="474.70" y2="101.50" stroke="#262626" stroke-width="0.95" />
<text x="474.70" y="107.80" font-size="7.4" text-anchor="middle" fill="#222" >15</text>
<text x="430.80" y="9.30" font-size="8.3" text-anchor="middle" fill="#222" >FR-CART</text>
<text x="347.6" y="55.0" font-size="8.3" text-anchor="middle" fill="#222" transform="rotate(-90 347.6 55.0)">Bioluminecence (p/s)</text>
<text x="381.20" y="117.80" font-size="8.3" text-anchor="start" fill="#222" >Days after T-cell treatment</text>
<polyline points="401.98,76.30 414.10,75.30 426.22,78.50 444.40,79.30 456.52,72.70" fill="none" stroke="#262626" stroke-width="1.0"/>
<polygon points="401.98,73.50 404.78,76.30 401.98,79.10 399.18,76.30" fill="#fff" stroke="#262626" stroke-width="1.0" stroke-linejoin="miter"/>
<polygon points="414.10,72.50 416.90,75.30 414.10,78.10 411.30,75.30" fill="#fff" stroke="#262626" stroke-width="1.0" stroke-linejoin="miter"/>
<polygon points="426.22,75.70 429.02,78.50 426.22,81.30 423.42,78.50" fill="#fff" stroke="#262626" stroke-width="1.0" stroke-linejoin="miter"/>
<polygon points="444.40,76.50 447.20,79.30 444.40,82.10 441.60,79.30" fill="#fff" stroke="#262626" stroke-width="1.0" stroke-linejoin="miter"/>
<polygon points="456.52,69.90 459.32,72.70 456.52,75.50 453.72,72.70" fill="#fff" stroke="#262626" stroke-width="1.0" stroke-linejoin="miter"/>
<polyline points="401.98,59.80 414.10,46.00 426.22,28.50 444.40,26.00 456.52,29.80" fill="none" stroke="#262626" stroke-width="1.0"/>
<circle cx="401.98" cy="59.80" r="2.8" fill="#f29a94" stroke="#4a1512" stroke-width="1.1"/>
<circle cx="414.10" cy="46.00" r="2.8" fill="#f29a94" stroke="#4a1512" stroke-width="1.1"/>
<circle cx="426.22" cy="28.50" r="2.8" fill="#f29a94" stroke="#4a1512" stroke-width="1.1"/>
<circle cx="444.40" cy="26.00" r="2.8" fill="#f29a94" stroke="#4a1512" stroke-width="1.1"/>
<circle cx="456.52" cy="29.80" r="2.8" fill="#f29a94" stroke="#4a1512" stroke-width="1.1"/>
<polyline points="401.98,45.00 414.10,29.80 426.22,25.30 444.40,29.80 456.52,37.90" fill="none" stroke="#262626" stroke-width="1.0"/>
<polygon points="401.98,42.70 404.55,47.42 399.42,47.42" fill="#e43c36" stroke="#3a0d0a" stroke-width="1.1" stroke-linejoin="miter"/>
<polygon points="414.10,27.50 416.67,32.23 411.54,32.23" fill="#e43c36" stroke="#3a0d0a" stroke-width="1.1" stroke-linejoin="miter"/>
<polygon points="426.22,23.00 428.79,27.73 423.66,27.73" fill="#e43c36" stroke="#3a0d0a" stroke-width="1.1" stroke-linejoin="miter"/>
<polygon points="444.40,27.50 446.96,32.23 441.83,32.23" fill="#e43c36" stroke="#3a0d0a" stroke-width="1.1" stroke-linejoin="miter"/>
<polygon points="456.52,35.60 459.08,40.32 453.95,40.32" fill="#e43c36" stroke="#3a0d0a" stroke-width="1.1" stroke-linejoin="miter"/>
<text x="398.00" y="42.14" font-size="8.4" text-anchor="middle" fill="#222" font-weight="bold" >***</text>
<text x="414.00" y="27.14" font-size="8.4" text-anchor="middle" fill="#222" font-weight="bold" >***</text>
<text x="456.80" y="27.24" font-size="8.4" text-anchor="middle" fill="#222" font-weight="bold" >*</text>
<line x1="470.20" y1="19.90" x2="478.80" y2="19.90" stroke="#262626" stroke-width="0.8" />
<polygon points="474.50,17.10 477.30,19.90 474.50,22.70 471.70,19.90" fill="#fff" stroke="#262626" stroke-width="1.0" stroke-linejoin="miter"/>
<line x1="470.20" y1="30.30" x2="478.80" y2="30.30" stroke="#262626" stroke-width="0.8" />
<circle cx="474.50" cy="30.30" r="2.8" fill="#f29a94" stroke="#4a1512" stroke-width="1.1"/>
<line x1="470.20" y1="40.70" x2="478.80" y2="40.70" stroke="#262626" stroke-width="0.8" />
<polygon points="474.50,38.40 477.06,43.12 471.94,43.12" fill="#e43c36" stroke="#3a0d0a" stroke-width="1.1" stroke-linejoin="miter"/>
<text x="481.90" y="22.00" font-size="7" text-anchor="start" fill="#222" >PBS</text>
<text x="481.90" y="33.00" font-size="7" text-anchor="start" fill="#222" >CART-Luc</text>
<text x="481.90" y="42.80" font-size="7" text-anchor="start" fill="#222" >CART-Luc +</text>
<text x="481.90" y="51.60" font-size="7" text-anchor="start" fill="#222" >OAdBiTE</text>
<line x1="387.60" y1="146.30" x2="387.60" y2="229.70" stroke="#262626" stroke-width="0.95" />
<line x1="387.60" y1="229.30" x2="477.30" y2="229.30" stroke="#262626" stroke-width="0.95" />
<line x1="385.70" y1="223.08" x2="387.60" y2="223.08" stroke="#262626" stroke-width="0.7" />
<line x1="385.70" y1="219.45" x2="387.60" y2="219.45" stroke="#262626" stroke-width="0.7" />
<line x1="385.70" y1="216.87" x2="387.60" y2="216.87" stroke="#262626" stroke-width="0.7" />
<line x1="385.70" y1="214.87" x2="387.60" y2="214.87" stroke="#262626" stroke-width="0.7" />
<line x1="385.70" y1="213.23" x2="387.60" y2="213.23" stroke="#262626" stroke-width="0.7" />
<line x1="385.70" y1="211.85" x2="387.60" y2="211.85" stroke="#262626" stroke-width="0.7" />
<line x1="385.70" y1="210.65" x2="387.60" y2="210.65" stroke="#262626" stroke-width="0.7" />
<line x1="385.70" y1="209.59" x2="387.60" y2="209.59" stroke="#262626" stroke-width="0.7" />
<line x1="385.70" y1="202.43" x2="387.60" y2="202.43" stroke="#262626" stroke-width="0.7" />
<line x1="385.70" y1="198.80" x2="387.60" y2="198.80" stroke="#262626" stroke-width="0.7" />
<line x1="385.70" y1="196.22" x2="387.60" y2="196.22" stroke="#262626" stroke-width="0.7" />
<line x1="385.70" y1="194.22" x2="387.60" y2="194.22" stroke="#262626" stroke-width="0.7" />
<line x1="385.70" y1="192.58" x2="387.60" y2="192.58" stroke="#262626" stroke-width="0.7" />
<line x1="385.70" y1="191.20" x2="387.60" y2="191.20" stroke="#262626" stroke-width="0.7" />
<line x1="385.70" y1="190.00" x2="387.60" y2="190.00" stroke="#262626" stroke-width="0.7" />
<line x1="385.70" y1="188.94" x2="387.60" y2="188.94" stroke="#262626" stroke-width="0.7" />
<line x1="385.70" y1="181.78" x2="387.60" y2="181.78" stroke="#262626" stroke-width="0.7" />
<line x1="385.70" y1="178.15" x2="387.60" y2="178.15" stroke="#262626" stroke-width="0.7" />
<line x1="385.70" y1="175.57" x2="387.60" y2="175.57" stroke="#262626" stroke-width="0.7" />
<line x1="385.70" y1="173.57" x2="387.60" y2="173.57" stroke="#262626" stroke-width="0.7" />
<line x1="385.70" y1="171.93" x2="387.60" y2="171.93" stroke="#262626" stroke-width="0.7" />
<line x1="385.70" y1="170.55" x2="387.60" y2="170.55" stroke="#262626" stroke-width="0.7" />
<line x1="385.70" y1="169.35" x2="387.60" y2="169.35" stroke="#262626" stroke-width="0.7" />
<line x1="385.70" y1="168.29" x2="387.60" y2="168.29" stroke="#262626" stroke-width="0.7" />
<line x1="385.70" y1="161.13" x2="387.60" y2="161.13" stroke="#262626" stroke-width="0.7" />
<line x1="385.70" y1="157.50" x2="387.60" y2="157.50" stroke="#262626" stroke-width="0.7" />
<line x1="385.70" y1="154.92" x2="387.60" y2="154.92" stroke="#262626" stroke-width="0.7" />
<line x1="385.70" y1="152.92" x2="387.60" y2="152.92" stroke="#262626" stroke-width="0.7" />
<line x1="385.70" y1="151.28" x2="387.60" y2="151.28" stroke="#262626" stroke-width="0.7" />
<line x1="385.70" y1="149.90" x2="387.60" y2="149.90" stroke="#262626" stroke-width="0.7" />
<line x1="385.70" y1="148.70" x2="387.60" y2="148.70" stroke="#262626" stroke-width="0.7" />
<line x1="385.70" y1="147.64" x2="387.60" y2="147.64" stroke="#262626" stroke-width="0.7" />
<line x1="383.80" y1="229.30" x2="387.60" y2="229.30" stroke="#262626" stroke-width="0.95" />
<text x="381.80" y="232.00" font-size="7.4" text-anchor="end" fill="#222">1.0x10<tspan dy="-2.8" font-size="5.6">04</tspan></text>
<line x1="383.80" y1="208.65" x2="387.60" y2="208.65" stroke="#262626" stroke-width="0.95" />
<text x="381.80" y="211.35" font-size="7.4" text-anchor="end" fill="#222">1.0x10<tspan dy="-2.8" font-size="5.6">05</tspan></text>
<line x1="383.80" y1="188.00" x2="387.60" y2="188.00" stroke="#262626" stroke-width="0.95" />
<text x="381.80" y="190.70" font-size="7.4" text-anchor="end" fill="#222">1.0x10<tspan dy="-2.8" font-size="5.6">06</tspan></text>
<line x1="383.80" y1="167.35" x2="387.60" y2="167.35" stroke="#262626" stroke-width="0.95" />
<text x="381.80" y="170.05" font-size="7.4" text-anchor="end" fill="#222">1.0x10<tspan dy="-2.8" font-size="5.6">07</tspan></text>
<line x1="383.80" y1="146.70" x2="387.60" y2="146.70" stroke="#262626" stroke-width="0.95" />
<text x="381.80" y="149.40" font-size="7.4" text-anchor="end" fill="#222">1.0x10<tspan dy="-2.8" font-size="5.6">08</tspan></text>
<line x1="387.60" y1="229.30" x2="387.60" y2="231.80" stroke="#262626" stroke-width="0.95" />
<text x="387.60" y="238.30" font-size="7.4" text-anchor="middle" fill="#222" >0</text>
<line x1="417.50" y1="229.30" x2="417.50" y2="231.80" stroke="#262626" stroke-width="0.95" />
<text x="417.50" y="238.30" font-size="7.4" text-anchor="middle" fill="#222" >5</text>
<line x1="447.40" y1="229.30" x2="447.40" y2="231.80" stroke="#262626" stroke-width="0.95" />
<text x="447.40" y="238.30" font-size="7.4" text-anchor="middle" fill="#222" >10</text>
<line x1="477.30" y1="229.30" x2="477.30" y2="231.80" stroke="#262626" stroke-width="0.95" />
<text x="477.30" y="238.30" font-size="7.4" text-anchor="middle" fill="#222" >15</text>
<text x="429.20" y="140.60" font-size="8.3" text-anchor="middle" fill="#222" >CD19-CART</text>
<text x="348.5" y="187.0" font-size="7.95" text-anchor="middle" fill="#222" transform="rotate(-90 348.5 187.0)">Bioluminecence (p/s)</text>
<text x="383.80" y="250.90" font-size="8.3" text-anchor="start" fill="#222" >Days after T-cell treatment</text>
<polyline points="405.54,206.30 417.50,205.80 429.46,208.80 447.40,209.60 459.36,203.80" fill="none" stroke="#262626" stroke-width="1.0"/>
<polygon points="405.54,203.80 408.04,206.30 405.54,208.80 403.04,206.30" fill="#fff" stroke="#262626" stroke-width="1.0" stroke-linejoin="miter"/>
<polygon points="417.50,203.30 420.00,205.80 417.50,208.30 415.00,205.80" fill="#fff" stroke="#262626" stroke-width="1.0" stroke-linejoin="miter"/>
<polygon points="429.46,206.30 431.96,208.80 429.46,211.30 426.96,208.80" fill="#fff" stroke="#262626" stroke-width="1.0" stroke-linejoin="miter"/>
<polygon points="447.40,207.10 449.90,209.60 447.40,212.10 444.90,209.60" fill="#fff" stroke="#262626" stroke-width="1.0" stroke-linejoin="miter"/>
<polygon points="459.36,201.30 461.86,203.80 459.36,206.30 456.86,203.80" fill="#fff" stroke="#262626" stroke-width="1.0" stroke-linejoin="miter"/>
<polyline points="405.54,191.20 417.50,185.60 429.46,182.30 447.40,176.30 459.36,181.00" fill="none" stroke="#262626" stroke-width="1.0"/>
<circle cx="405.54" cy="191.20" r="2.4" fill="#b2e2e8" stroke="#0f3f4a" stroke-width="1.1"/>
<circle cx="417.50" cy="185.60" r="2.4" fill="#b2e2e8" stroke="#0f3f4a" stroke-width="1.1"/>
<circle cx="429.46" cy="182.30" r="2.4" fill="#b2e2e8" stroke="#0f3f4a" stroke-width="1.1"/>
<circle cx="447.40" cy="176.30" r="2.4" fill="#b2e2e8" stroke="#0f3f4a" stroke-width="1.1"/>
<circle cx="459.36" cy="181.00" r="2.4" fill="#b2e2e8" stroke="#0f3f4a" stroke-width="1.1"/>
<line x1="429.46" y1="159.90" x2="429.46" y2="165.90" stroke="#10163a" stroke-width="0.8" />
<line x1="427.16" y1="159.90" x2="431.76" y2="159.90" stroke="#10163a" stroke-width="0.9" />
<line x1="427.16" y1="165.90" x2="431.76" y2="165.90" stroke="#10163a" stroke-width="0.9" />
<line x1="447.40" y1="167.00" x2="447.40" y2="173.00" stroke="#10163a" stroke-width="0.8" />
<line x1="445.10" y1="167.00" x2="449.70" y2="167.00" stroke="#10163a" stroke-width="0.9" />
<line x1="445.10" y1="173.00" x2="449.70" y2="173.00" stroke="#10163a" stroke-width="0.9" />
<polyline points="405.54,179.30 417.50,162.40 429.46,162.90 447.40,170.00 459.36,173.00" fill="none" stroke="#262626" stroke-width="1.0"/>
<polygon points="405.54,177.40 407.73,181.43 403.36,181.43" fill="#2f3f8c" stroke="#10163a" stroke-width="1.1" stroke-linejoin="miter"/>
<polygon points="417.50,160.50 419.69,164.53 415.31,164.53" fill="#2f3f8c" stroke="#10163a" stroke-width="1.1" stroke-linejoin="miter"/>
<polygon points="429.46,161.00 431.65,165.03 427.28,165.03" fill="#2f3f8c" stroke="#10163a" stroke-width="1.1" stroke-linejoin="miter"/>
<polygon points="447.40,168.10 449.59,172.12 445.22,172.12" fill="#2f3f8c" stroke="#10163a" stroke-width="1.1" stroke-linejoin="miter"/>
<polygon points="459.36,171.10 461.55,175.12 457.18,175.12" fill="#2f3f8c" stroke="#10163a" stroke-width="1.1" stroke-linejoin="miter"/>
<text x="413.30" y="158.94" font-size="8.4" text-anchor="middle" fill="#222" font-weight="bold" >***</text>
<text x="430.30" y="158.94" font-size="8.4" text-anchor="middle" fill="#222" font-weight="bold" >***</text>
<line x1="469.10" y1="141.00" x2="477.70" y2="141.00" stroke="#262626" stroke-width="0.8" />
<polygon points="473.40,138.12 476.27,141.00 473.40,143.88 470.52,141.00" fill="#fff" stroke="#262626" stroke-width="1.0" stroke-linejoin="miter"/>
<line x1="469.10" y1="151.10" x2="477.70" y2="151.10" stroke="#262626" stroke-width="0.8" />
<circle cx="473.40" cy="151.10" r="2.76" fill="#b2e2e8" stroke="#0f3f4a" stroke-width="1.1"/>
<line x1="469.10" y1="162.30" x2="477.70" y2="162.30" stroke="#262626" stroke-width="0.8" />
<polygon points="473.40,160.06 475.91,164.68 470.89,164.68" fill="#2f3f8c" stroke="#10163a" stroke-width="1.1" stroke-linejoin="miter"/>
<text x="481.10" y="142.90" font-size="7" text-anchor="start" fill="#222" >PBS</text>
<text x="481.10" y="153.70" font-size="7" text-anchor="start" fill="#222" >CART-Luc</text>
<text x="481.10" y="165.00" font-size="7" text-anchor="start" fill="#222" >CART-Luc +</text>
<text x="481.10" y="173.10" font-size="7" text-anchor="start" fill="#222" >OAdBTE</text>
<line x1="56.00" y1="260.60" x2="56.00" y2="325.70" stroke="#262626" stroke-width="0.95" />
<line x1="56.00" y1="325.30" x2="104.80" y2="325.30" stroke="#262626" stroke-width="0.95" />
<line x1="54.00" y1="325.30" x2="56.00" y2="325.30" stroke="#262626" stroke-width="0.95" />
<text x="53.20" y="327.70" font-size="6.9" text-anchor="end" fill="#222" textLength="3.34" lengthAdjust="spacingAndGlyphs">0</text>
<line x1="54.00" y1="303.87" x2="56.00" y2="303.87" stroke="#262626" stroke-width="0.95" />
<text x="53.20" y="306.27" font-size="6.9" text-anchor="end" fill="#222" textLength="6.68" lengthAdjust="spacingAndGlyphs">20</text>
<line x1="54.00" y1="282.43" x2="56.00" y2="282.43" stroke="#262626" stroke-width="0.95" />
<text x="53.20" y="284.83" font-size="6.9" text-anchor="end" fill="#222" textLength="6.68" lengthAdjust="spacingAndGlyphs">40</text>
<line x1="54.00" y1="261.00" x2="56.00" y2="261.00" stroke="#262626" stroke-width="0.95" />
<text x="53.20" y="263.40" font-size="6.9" text-anchor="end" fill="#222" textLength="6.68" lengthAdjust="spacingAndGlyphs">60</text>
<line x1="68.70" y1="325.30" x2="68.70" y2="327.50" stroke="#262626" stroke-width="0.95" />
<line x1="93.40" y1="325.30" x2="93.40" y2="327.50" stroke="#262626" stroke-width="0.95" />
<text x="39.5" y="294.2" font-size="8.3" text-anchor="middle" fill="#222" transform="rotate(-90 39.5 294.2)">% CD25 Expressing T-cells</text>
<line x1="68.30" y1="314.30" x2="68.30" y2="314.00" stroke="#262626" stroke-width="0.9" />
<line x1="65.30" y1="314.00" x2="71.30" y2="314.00" stroke="#262626" stroke-width="0.9" />
<line x1="68.30" y1="319.50" x2="68.30" y2="320.50" stroke="#262626" stroke-width="0.9" />
<line x1="65.30" y1="320.50" x2="71.30" y2="320.50" stroke="#262626" stroke-width="0.9" />
<rect x="60.00" y="314.30" width="16.60" height="5.20" fill="#fff" stroke="#262626" stroke-width="0.9"/>
<line x1="60.00" y1="316.00" x2="76.60" y2="316.00" stroke="#262626" stroke-width="0.9" />
<line x1="93.40" y1="276.20" x2="93.40" y2="271.70" stroke="#c8453a" stroke-width="0.8" />
<line x1="90.00" y1="271.70" x2="96.80" y2="271.70" stroke="#c8453a" stroke-width="0.8" />
<line x1="93.40" y1="303.70" x2="93.40" y2="303.90" stroke="#c8453a" stroke-width="0.8" />
<line x1="90.00" y1="303.90" x2="96.80" y2="303.90" stroke="#c8453a" stroke-width="0.8" />
<rect x="85.00" y="276.20" width="16.80" height="27.50" fill="#fff" stroke="#c8453a" stroke-width="0.8"/>
<line x1="85.00" y1="296.40" x2="101.80" y2="296.40" stroke="#c8453a" stroke-width="0.8" />
<line x1="68.70" y1="262.00" x2="94.00" y2="262.00" stroke="#454852" stroke-width="0.9" />
<text x="80.30" y="262.77" font-size="10.0" text-anchor="middle" fill="#222" font-weight="bold" >**</text>
<text x="75.50" y="331.70" font-size="7.4" text-anchor="end" fill="#222" transform="rotate(-45 75.50 331.70)" >FR-CART</text>
<text x="97.00" y="331.70" font-size="7.0" text-anchor="end" fill="#222" transform="rotate(-45 97.00 331.70)" >FR-CART+</text>
<text x="103.00" y="338.50" font-size="7.0" text-anchor="end" fill="#222" transform="rotate(-45 103.00 338.50)" >OAd-BiTE</text>
<line x1="147.90" y1="259.40" x2="147.90" y2="325.20" stroke="#262626" stroke-width="0.95" />
<line x1="147.90" y1="324.80" x2="197.90" y2="324.80" stroke="#262626" stroke-width="0.95" />
<line x1="145.90" y1="324.80" x2="147.90" y2="324.80" stroke="#262626" stroke-width="0.95" />
<text x="145.10" y="327.20" font-size="6.9" text-anchor="end" fill="#222" textLength="3.34" lengthAdjust="spacingAndGlyphs">0</text>
<line x1="145.90" y1="308.55" x2="147.90" y2="308.55" stroke="#262626" stroke-width="0.95" />
<text x="145.10" y="310.95" font-size="6.9" text-anchor="end" fill="#222" textLength="6.68" lengthAdjust="spacingAndGlyphs">20</text>
<line x1="145.90" y1="292.30" x2="147.90" y2="292.30" stroke="#262626" stroke-width="0.95" />
<text x="145.10" y="294.70" font-size="6.9" text-anchor="end" fill="#222" textLength="6.68" lengthAdjust="spacingAndGlyphs">40</text>
<line x1="145.90" y1="276.05" x2="147.90" y2="276.05" stroke="#262626" stroke-width="0.95" />
<text x="145.10" y="278.45" font-size="6.9" text-anchor="end" fill="#222" textLength="6.68" lengthAdjust="spacingAndGlyphs">60</text>
<line x1="145.90" y1="259.80" x2="147.90" y2="259.80" stroke="#262626" stroke-width="0.95" />
<text x="145.10" y="262.20" font-size="6.9" text-anchor="end" fill="#222" textLength="6.68" lengthAdjust="spacingAndGlyphs">80</text>
<line x1="160.50" y1="324.80" x2="160.50" y2="327.00" stroke="#262626" stroke-width="0.95" />
<line x1="185.30" y1="324.80" x2="185.30" y2="327.00" stroke="#262626" stroke-width="0.95" />
<text x="129.3" y="296.6" font-size="8.1" text-anchor="middle" fill="#222" transform="rotate(-90 129.3 296.6)">%Ki67·Expressing T-cells</text>
<line x1="160.70" y1="293.10" x2="160.70" y2="292.40" stroke="#262626" stroke-width="0.8" />
<line x1="157.70" y1="292.40" x2="163.70" y2="292.40" stroke="#262626" stroke-width="0.8" />
<line x1="160.70" y1="299.00" x2="160.70" y2="300.00" stroke="#262626" stroke-width="0.8" />
<line x1="157.70" y1="300.00" x2="163.70" y2="300.00" stroke="#262626" stroke-width="0.8" />
<rect x="152.20" y="293.10" width="17.00" height="5.90" fill="#fff" stroke="#262626" stroke-width="0.8"/>
<line x1="152.20" y1="296.20" x2="169.20" y2="296.20" stroke="#262626" stroke-width="0.8" />
<line x1="185.30" y1="266.10" x2="185.30" y2="265.90" stroke="#c8453a" stroke-width="0.9" />
<line x1="182.30" y1="265.90" x2="188.30" y2="265.90" stroke="#c8453a" stroke-width="0.9" />
<line x1="185.30" y1="272.90" x2="185.30" y2="273.10" stroke="#c8453a" stroke-width="0.9" />
<line x1="182.30" y1="273.10" x2="188.30" y2="273.10" stroke="#c8453a" stroke-width="0.9" />
<rect x="177.10" y="266.10" width="16.40" height="6.80" fill="#fff" stroke="#c8453a" stroke-width="0.9"/>
<line x1="177.10" y1="269.10" x2="193.50" y2="269.10" stroke="#c8453a" stroke-width="0.9" />
<line x1="160.50" y1="261.30" x2="185.80" y2="261.30" stroke="#454852" stroke-width="0.9" />
<text x="172.60" y="261.97" font-size="10.0" text-anchor="middle" fill="#222" font-weight="bold" >***</text>
<text x="165.60" y="333.40" font-size="7.4" text-anchor="end" fill="#222" transform="rotate(-45 165.60 333.40)" >FR-CART</text>
<text x="187.30" y="332.60" font-size="7.0" text-anchor="end" fill="#222" transform="rotate(-45 187.30 332.60)" >FR-CART+</text>
<text x="192.30" y="340.20" font-size="7.0" text-anchor="end" fill="#222" transform="rotate(-45 192.30 340.20)" >OAd-BiTE</text>
<line x1="234.80" y1="256.10" x2="234.80" y2="323.80" stroke="#262626" stroke-width="0.95" />
<line x1="234.80" y1="323.40" x2="335.00" y2="323.40" stroke="#262626" stroke-width="0.95" />
<line x1="232.80" y1="323.40" x2="234.80" y2="323.40" stroke="#262626" stroke-width="0.95" />
<text x="232.00" y="325.80" font-size="6.9" text-anchor="end" fill="#222" textLength="3.34" lengthAdjust="spacingAndGlyphs">0</text>
<line x1="232.80" y1="306.67" x2="234.80" y2="306.67" stroke="#262626" stroke-width="0.95" />
<text x="232.00" y="309.07" font-size="6.9" text-anchor="end" fill="#222" textLength="6.68" lengthAdjust="spacingAndGlyphs">20</text>
<line x1="232.80" y1="289.95" x2="234.80" y2="289.95" stroke="#262626" stroke-width="0.95" />
<text x="232.00" y="292.35" font-size="6.9" text-anchor="end" fill="#222" textLength="6.68" lengthAdjust="spacingAndGlyphs">40</text>
<line x1="232.80" y1="273.23" x2="234.80" y2="273.23" stroke="#262626" stroke-width="0.95" />
<text x="232.00" y="275.62" font-size="6.9" text-anchor="end" fill="#222" textLength="6.68" lengthAdjust="spacingAndGlyphs">60</text>
<line x1="232.80" y1="256.50" x2="234.80" y2="256.50" stroke="#262626" stroke-width="0.95" />
<text x="232.00" y="258.90" font-size="6.9" text-anchor="end" fill="#222" textLength="6.68" lengthAdjust="spacingAndGlyphs">80</text>
<text x="215.8" y="291.5" font-size="8.05" text-anchor="middle" fill="#222" transform="rotate(-90 215.8 291.5)">% Expressing T-cells</text>
<line x1="246.05" y1="267.30" x2="246.05" y2="263.30" stroke="#262626" stroke-width="0.9" />
<line x1="244.05" y1="263.30" x2="248.05" y2="263.30" stroke="#262626" stroke-width="0.9" />
<rect x="241.60" y="267.30" width="8.90" height="56.10" fill="#fff" stroke="#262626" stroke-width="0.8"/>
<line x1="258.65" y1="270.90" x2="258.65" y2="262.00" stroke="#262626" stroke-width="0.9" />
<line x1="256.65" y1="262.00" x2="260.65" y2="262.00" stroke="#262626" stroke-width="0.9" />
<rect x="254.20" y="270.90" width="8.90" height="52.50" fill="#e8402a" stroke="#a82a1a" stroke-width="0.8"/>
<line x1="279.40" y1="310.80" x2="279.40" y2="307.50" stroke="#262626" stroke-width="0.9" />
<line x1="277.40" y1="307.50" x2="281.40" y2="307.50" stroke="#262626" stroke-width="0.9" />
<rect x="275.00" y="310.80" width="8.80" height="12.60" fill="#fff" stroke="#262626" stroke-width="0.8"/>
<line x1="292.00" y1="286.50" x2="292.00" y2="279.20" stroke="#262626" stroke-width="0.9" />
<line x1="290.00" y1="279.20" x2="294.00" y2="279.20" stroke="#262626" stroke-width="0.9" />
<rect x="287.60" y="286.50" width="8.80" height="36.90" fill="#e8402a" stroke="#a82a1a" stroke-width="0.8"/>
<line x1="312.95" y1="315.80" x2="312.95" y2="310.80" stroke="#262626" stroke-width="0.9" />
<line x1="310.95" y1="310.80" x2="314.95" y2="310.80" stroke="#262626" stroke-width="0.9" />
<rect x="308.50" y="315.80" width="8.90" height="7.60" fill="#fff" stroke="#262626" stroke-width="0.8"/>
<line x1="325.60" y1="290.00" x2="325.60" y2="277.20" stroke="#262626" stroke-width="0.9" />
<line x1="323.60" y1="277.20" x2="327.60" y2="277.20" stroke="#262626" stroke-width="0.9" />
<rect x="321.20" y="290.00" width="8.80" height="33.40" fill="#e8402a" stroke="#a82a1a" stroke-width="0.8"/>
<line x1="252.20" y1="323.40" x2="252.20" y2="325.60" stroke="#262626" stroke-width="0.95" />
<text x="255.40" y="330.70" font-size="8" text-anchor="end" fill="#222" transform="rotate(-45 255.40 330.70)" >PD-1</text>
<line x1="285.80" y1="323.40" x2="285.80" y2="325.60" stroke="#262626" stroke-width="0.95" />
<text x="289.00" y="330.70" font-size="8" text-anchor="end" fill="#222" transform="rotate(-45 289.00 330.70)" >TIM-3</text>
<line x1="319.40" y1="323.40" x2="319.40" y2="325.60" stroke="#262626" stroke-width="0.95" />
<text x="322.60" y="330.70" font-size="8" text-anchor="end" fill="#222" transform="rotate(-45 322.60 330.70)" >LAG-3</text>
<line x1="279.50" y1="275.40" x2="292.60" y2="275.40" stroke="#454852" stroke-width="0.9" />
<text x="286.05" y="276.91" font-size="12.0" text-anchor="middle" fill="#222" font-weight="bold" >***</text>
<line x1="313.60" y1="275.40" x2="326.20" y2="275.40" stroke="#454852" stroke-width="0.9" />
<text x="319.90" y="276.91" font-size="12.0" text-anchor="middle" fill="#222" font-weight="bold" >**</text>
<rect x="342.80" y="270.20" width="6.50" height="4.30" fill="#fff" stroke="#262626" stroke-width="0.8"/>
<text x="352.00" y="275.40" font-size="8" text-anchor="start" fill="#222" >FR-CART</text>
<rect x="342.80" y="280.60" width="6.50" height="4.30" fill="#e8402a" stroke="#a82a1a" stroke-width="0.8"/>
<text x="352.00" y="285.10" font-size="8" text-anchor="start" fill="#222" >FR-CART + OAd-BiTE</text>
<line x1="50.50" y1="399.10" x2="50.50" y2="466.80" stroke="#262626" stroke-width="0.95" />
<line x1="50.50" y1="466.40" x2="104.80" y2="466.40" stroke="#262626" stroke-width="0.95" />
<line x1="48.50" y1="466.40" x2="50.50" y2="466.40" stroke="#262626" stroke-width="0.95" />
<text x="47.70" y="468.80" font-size="6.9" text-anchor="end" fill="#222" textLength="3.34" lengthAdjust="spacingAndGlyphs">0</text>
<line x1="48.50" y1="444.10" x2="50.50" y2="444.10" stroke="#262626" stroke-width="0.95" />
<text x="47.70" y="446.50" font-size="6.9" text-anchor="end" fill="#222" textLength="6.68" lengthAdjust="spacingAndGlyphs">10</text>
<line x1="48.50" y1="421.80" x2="50.50" y2="421.80" stroke="#262626" stroke-width="0.95" />
<text x="47.70" y="424.20" font-size="6.9" text-anchor="end" fill="#222" textLength="6.68" lengthAdjust="spacingAndGlyphs">20</text>
<line x1="48.50" y1="399.50" x2="50.50" y2="399.50" stroke="#262626" stroke-width="0.95" />
<text x="47.70" y="401.90" font-size="6.9" text-anchor="end" fill="#222" textLength="6.68" lengthAdjust="spacingAndGlyphs">30</text>
<line x1="59.80" y1="466.40" x2="59.80" y2="468.60" stroke="#262626" stroke-width="0.95" />
<line x1="77.50" y1="466.40" x2="77.50" y2="468.60" stroke="#262626" stroke-width="0.95" />
<line x1="95.50" y1="466.40" x2="95.50" y2="468.60" stroke="#262626" stroke-width="0.95" />
<text x="23.1" y="429.5" font-size="8.2" text-anchor="middle" fill="#222" transform="rotate(-90 23.1 429.5)">% CD45<tspan dy="-2.5" font-size="6">+</tspan><tspan dy="2.5"> Cells</tspan></text>
<text x="33" y="429.5" font-size="8" text-anchor="middle" fill="#222" transform="rotate(-90 33 429.5)">(vs EPCAM)</text>
<line x1="60.00" y1="455.80" x2="60.00" y2="453.30" stroke="#262626" stroke-width="0.8" />
<line x1="57.50" y1="453.30" x2="62.50" y2="453.30" stroke="#262626" stroke-width="0.8" />
<line x1="60.00" y1="461.40" x2="60.00" y2="462.60" stroke="#262626" stroke-width="0.8" />
<line x1="57.50" y1="462.60" x2="62.50" y2="462.60" stroke="#262626" stroke-width="0.8" />
<rect x="54.30" y="455.80" width="11.40" height="5.60" fill="#fff" stroke="#262626" stroke-width="0.8"/>
<line x1="54.30" y1="458.80" x2="65.70" y2="458.80" stroke="#262626" stroke-width="0.8" />
<line x1="77.60" y1="457.10" x2="77.60" y2="456.90" stroke="#4a9ad0" stroke-width="0.8" />
<line x1="75.10" y1="456.90" x2="80.10" y2="456.90" stroke="#4a9ad0" stroke-width="0.8" />
<line x1="77.60" y1="463.90" x2="77.60" y2="464.20" stroke="#4a9ad0" stroke-width="0.8" />
<line x1="75.10" y1="464.20" x2="80.10" y2="464.20" stroke="#4a9ad0" stroke-width="0.8" />
<rect x="71.90" y="457.10" width="11.40" height="6.80" fill="#fff" stroke="#4a9ad0" stroke-width="0.8"/>
<line x1="71.90" y1="460.90" x2="83.30" y2="460.90" stroke="#4a9ad0" stroke-width="0.8" />
<line x1="95.80" y1="407.30" x2="95.80" y2="403.50" stroke="#4a52a0" stroke-width="0.8" />
<line x1="92.90" y1="403.50" x2="98.70" y2="403.50" stroke="#4a52a0" stroke-width="0.8" />
<line x1="95.80" y1="438.10" x2="95.80" y2="438.30" stroke="#4a52a0" stroke-width="0.8" />
<line x1="92.90" y1="438.30" x2="98.70" y2="438.30" stroke="#4a52a0" stroke-width="0.8" />
<rect x="90.10" y="407.30" width="11.40" height="30.80" fill="#fff" stroke="#4a52a0" stroke-width="0.8"/>
<line x1="90.10" y1="428.00" x2="101.50" y2="428.00" stroke="#4a52a0" stroke-width="0.8" />
<line x1="67.40" y1="400.30" x2="96.70" y2="400.30" stroke="#454852" stroke-width="0.9" />
<line x1="67.40" y1="400.30" x2="67.40" y2="447.00" stroke="#454852" stroke-width="0.9" />
<line x1="59.80" y1="447.00" x2="74.80" y2="447.00" stroke="#454852" stroke-width="0.9" />
<text x="81.30" y="401.18" font-size="10.2" text-anchor="middle" fill="#222" font-weight="bold" >***</text>
<text x="63.00" y="474.70" font-size="6.9" text-anchor="end" fill="#222" transform="rotate(-45 63.00 474.70)" >CD19-CART</text>
<text x="81.00" y="474.70" font-size="6.9" text-anchor="end" fill="#222" transform="rotate(-45 81.00 474.70)" >CD19-CART+OAd</text>
<text x="97.30" y="473.50" font-size="6.8" text-anchor="end" fill="#222" transform="rotate(-45 97.30 473.50)" >CD19-CART+</text>
<text x="100.50" y="483.60" font-size="6.8" text-anchor="end" fill="#222" transform="rotate(-45 100.50 483.60)" >OAd-BiTE</text>
<line x1="149.10" y1="401.90" x2="149.10" y2="470.60" stroke="#262626" stroke-width="0.95" />
<line x1="149.10" y1="470.20" x2="197.60" y2="470.20" stroke="#262626" stroke-width="0.95" />
<line x1="147.10" y1="470.20" x2="149.10" y2="470.20" stroke="#262626" stroke-width="0.95" />
<text x="146.30" y="472.60" font-size="6.9" text-anchor="end" fill="#222" textLength="3.34" lengthAdjust="spacingAndGlyphs">0</text>
<line x1="147.10" y1="453.23" x2="149.10" y2="453.23" stroke="#262626" stroke-width="0.95" />
<text x="146.30" y="455.62" font-size="6.9" text-anchor="end" fill="#222" textLength="6.68" lengthAdjust="spacingAndGlyphs">20</text>
<line x1="147.10" y1="436.25" x2="149.10" y2="436.25" stroke="#262626" stroke-width="0.95" />
<text x="146.30" y="438.65" font-size="6.9" text-anchor="end" fill="#222" textLength="6.68" lengthAdjust="spacingAndGlyphs">40</text>
<line x1="147.10" y1="419.27" x2="149.10" y2="419.27" stroke="#262626" stroke-width="0.95" />
<text x="146.30" y="421.67" font-size="6.9" text-anchor="end" fill="#222" textLength="6.68" lengthAdjust="spacingAndGlyphs">60</text>
<line x1="147.10" y1="402.30" x2="149.10" y2="402.30" stroke="#262626" stroke-width="0.95" />
<text x="146.30" y="404.70" font-size="6.9" text-anchor="end" fill="#222" textLength="6.68" lengthAdjust="spacingAndGlyphs">80</text>
<line x1="162.30" y1="470.20" x2="162.30" y2="472.40" stroke="#262626" stroke-width="0.95" />
<line x1="185.80" y1="470.20" x2="185.80" y2="472.40" stroke="#262626" stroke-width="0.95" />
<text x="129.6" y="430.8" font-size="8" text-anchor="middle" fill="#222" transform="rotate(-90 129.6 430.8)">%Ki67-Expressing T-cells</text>
<line x1="162.40" y1="436.40" x2="162.40" y2="436.20" stroke="#262626" stroke-width="0.8" />
<line x1="159.20" y1="436.20" x2="165.60" y2="436.20" stroke="#262626" stroke-width="0.8" />
<line x1="162.40" y1="443.20" x2="162.40" y2="445.00" stroke="#262626" stroke-width="0.8" />
<line x1="159.20" y1="445.00" x2="165.60" y2="445.00" stroke="#262626" stroke-width="0.8" />
<rect x="154.20" y="436.40" width="16.40" height="6.80" fill="#fff" stroke="#262626" stroke-width="0.8"/>
<line x1="154.20" y1="439.40" x2="170.60" y2="439.40" stroke="#262626" stroke-width="0.8" />
<line x1="185.10" y1="418.40" x2="185.10" y2="417.20" stroke="#4a52a0" stroke-width="0.9" />
<line x1="181.90" y1="417.20" x2="188.30" y2="417.20" stroke="#4a52a0" stroke-width="0.9" />
<line x1="185.10" y1="432.60" x2="185.10" y2="433.60" stroke="#4a52a0" stroke-width="0.9" />
<line x1="181.90" y1="433.60" x2="188.30" y2="433.60" stroke="#4a52a0" stroke-width="0.9" />
<rect x="177.30" y="418.40" width="15.60" height="14.20" fill="#fff" stroke="#4a52a0" stroke-width="0.9"/>
<line x1="177.30" y1="426.30" x2="192.90" y2="426.30" stroke="#4a52a0" stroke-width="0.9" />
<line x1="160.50" y1="410.40" x2="185.80" y2="410.40" stroke="#454852" stroke-width="0.9" />
<text x="171.90" y="411.98" font-size="10.2" text-anchor="middle" fill="#222" font-weight="bold" >**</text>
<text x="163.80" y="477.60" font-size="7.0" text-anchor="end" fill="#222" transform="rotate(-45 163.80 477.60)" >CD19-CART</text>
<text x="187.00" y="477.00" font-size="6.8" text-anchor="end" fill="#222" transform="rotate(-45 187.00 477.00)" >CD19-CART+</text>
<text x="190.40" y="485.60" font-size="6.8" text-anchor="end" fill="#222" transform="rotate(-45 190.40 485.60)" >OAd-BiTE</text>
<line x1="237.50" y1="399.50" x2="237.50" y2="468.50" stroke="#262626" stroke-width="0.95" />
<line x1="237.50" y1="468.10" x2="335.00" y2="468.10" stroke="#262626" stroke-width="0.95" />
<line x1="235.50" y1="468.10" x2="237.50" y2="468.10" stroke="#262626" stroke-width="0.95" />
<text x="234.70" y="470.50" font-size="6.9" text-anchor="end" fill="#222" textLength="3.34" lengthAdjust="spacingAndGlyphs">0</text>
<line x1="235.50" y1="451.05" x2="237.50" y2="451.05" stroke="#262626" stroke-width="0.95" />
<text x="234.70" y="453.45" font-size="6.9" text-anchor="end" fill="#222" textLength="6.68" lengthAdjust="spacingAndGlyphs">20</text>
<line x1="235.50" y1="434.00" x2="237.50" y2="434.00" stroke="#262626" stroke-width="0.95" />
<text x="234.70" y="436.40" font-size="6.9" text-anchor="end" fill="#222" textLength="6.68" lengthAdjust="spacingAndGlyphs">40</text>
<line x1="235.50" y1="416.95" x2="237.50" y2="416.95" stroke="#262626" stroke-width="0.95" />
<text x="234.70" y="419.35" font-size="6.9" text-anchor="end" fill="#222" textLength="6.68" lengthAdjust="spacingAndGlyphs">60</text>
<line x1="235.50" y1="399.90" x2="237.50" y2="399.90" stroke="#262626" stroke-width="0.95" />
<text x="234.70" y="402.30" font-size="6.9" text-anchor="end" fill="#222" textLength="6.68" lengthAdjust="spacingAndGlyphs">80</text>
<text x="217.3" y="434" font-size="8.05" text-anchor="middle" fill="#222" transform="rotate(-90 217.3 434)">% Expressing T-cells</text>
<line x1="248.55" y1="461.30" x2="248.55" y2="460.30" stroke="#262626" stroke-width="0.9" />
<line x1="246.55" y1="460.30" x2="250.55" y2="460.30" stroke="#262626" stroke-width="0.9" />
<rect x="244.10" y="461.30" width="8.90" height="6.80" fill="#fff" stroke="#262626" stroke-width="0.8"/>
<line x1="261.70" y1="412.80" x2="261.70" y2="400.20" stroke="#262626" stroke-width="0.9" />
<line x1="259.70" y1="400.20" x2="263.70" y2="400.20" stroke="#262626" stroke-width="0.9" />
<rect x="257.30" y="412.80" width="8.80" height="55.30" fill="#3f4fa0" stroke="#1f2a6a" stroke-width="0.8"/>
<line x1="282.90" y1="450.20" x2="282.90" y2="448.20" stroke="#262626" stroke-width="0.9" />
<line x1="280.90" y1="448.20" x2="284.90" y2="448.20" stroke="#262626" stroke-width="0.9" />
<rect x="278.20" y="450.20" width="9.40" height="17.90" fill="#fff" stroke="#262626" stroke-width="0.8"/>
<line x1="295.95" y1="432.50" x2="295.95" y2="427.20" stroke="#262626" stroke-width="0.9" />
<line x1="293.95" y1="427.20" x2="297.95" y2="427.20" stroke="#262626" stroke-width="0.9" />
<rect x="291.40" y="432.50" width="9.10" height="35.60" fill="#3f4fa0" stroke="#1f2a6a" stroke-width="0.8"/>
<line x1="317.35" y1="449.40" x2="317.35" y2="444.40" stroke="#262626" stroke-width="0.9" />
<line x1="315.35" y1="444.40" x2="319.35" y2="444.40" stroke="#262626" stroke-width="0.9" />
<rect x="312.80" y="449.40" width="9.10" height="18.70" fill="#fff" stroke="#262626" stroke-width="0.8"/>
<line x1="330.25" y1="414.80" x2="330.25" y2="409.50" stroke="#262626" stroke-width="0.9" />
<line x1="328.25" y1="409.50" x2="332.25" y2="409.50" stroke="#262626" stroke-width="0.9" />
<rect x="325.70" y="414.80" width="9.10" height="53.30" fill="#3f4fa0" stroke="#1f2a6a" stroke-width="0.8"/>
<line x1="255.50" y1="468.10" x2="255.50" y2="470.30" stroke="#262626" stroke-width="0.95" />
<text x="259.10" y="476.70" font-size="7.2" text-anchor="end" fill="#222" transform="rotate(-45 259.10 476.70)" >PD-1</text>
<line x1="289.60" y1="468.10" x2="289.60" y2="470.30" stroke="#262626" stroke-width="0.95" />
<text x="293.20" y="476.70" font-size="7.2" text-anchor="end" fill="#222" transform="rotate(-45 293.20 476.70)" >TIM-3</text>
<line x1="323.70" y1="468.10" x2="323.70" y2="470.30" stroke="#262626" stroke-width="0.95" />
<text x="327.30" y="476.70" font-size="7.2" text-anchor="end" fill="#222" transform="rotate(-45 327.30 476.70)" >LAG-3</text>
<line x1="250.00" y1="398.20" x2="261.80" y2="398.20" stroke="#454852" stroke-width="0.9" />
<text x="255.90" y="400.11" font-size="10.6" text-anchor="middle" fill="#222" font-weight="bold" >***</text>
<line x1="283.30" y1="424.10" x2="295.90" y2="424.10" stroke="#454852" stroke-width="0.9" />
<text x="289.60" y="426.01" font-size="10.6" text-anchor="middle" fill="#222" font-weight="bold" >***</text>
<line x1="318.60" y1="406.90" x2="331.30" y2="406.90" stroke="#454852" stroke-width="0.9" />
<text x="324.95" y="408.81" font-size="10.6" text-anchor="middle" fill="#222" font-weight="bold" >***</text>
<rect x="343.50" y="390.60" width="8.00" height="4.40" fill="#fff" stroke="#262626" stroke-width="0.8"/>
<text x="354.30" y="395.50" font-size="8" text-anchor="start" fill="#222" >CD19-CART</text>
<rect x="343.50" y="399.80" width="8.00" height="4.40" fill="#3f4fa0" stroke="#1f2a6a" stroke-width="0.8"/>
<text x="354.30" y="404.70" font-size="8" text-anchor="start" fill="#222" >CD19-CART + OAd-BiTE</text>
</svg>
</body></html>
